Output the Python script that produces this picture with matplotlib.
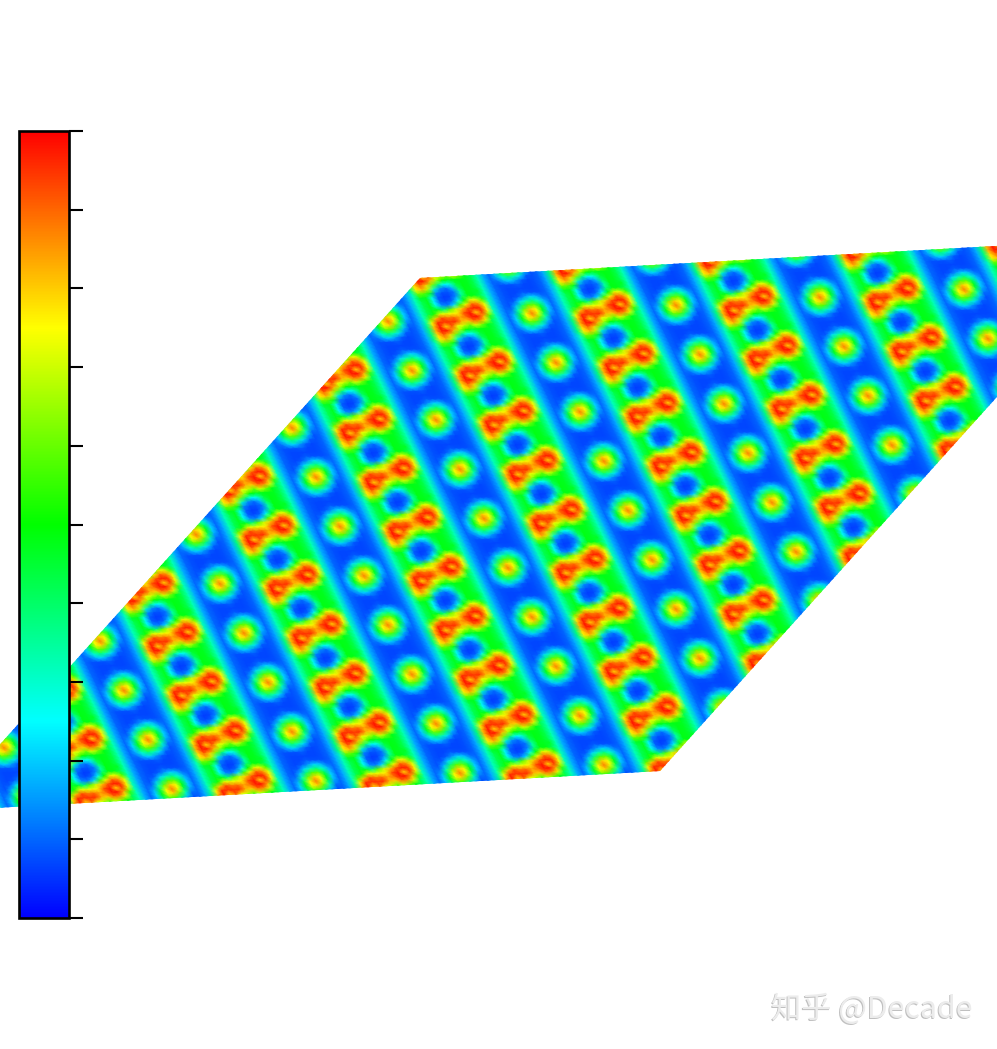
from matplotlib import pyplot as plt
from matplotlib.colors import LinearSegmentedColormap
from matplotlib.patches import Polygon
import numpy as np

# one repeat of the map in percent of the colour scale
# rows go along the slanted lattice direction, columns along the near-flat one
unit_cell = [
    [ 7,  7,  7,  8, 10, 17, 32, 60, 58, 47, 13,  8,  8, 11, 33, 48, 47, 46, 32, 17, 10,  8,  7,  7],
    [ 9,  8,  8,  8, 10, 17, 32, 46, 47, 28,  9,  6,  7, 14, 38, 48, 48, 42, 32, 17, 10,  8,  7,  7],
    [15, 21, 18, 11, 10, 17, 32, 42, 47, 24,  9,  7, 10, 26, 50, 72, 72, 56, 32, 17, 10,  8,  7,  9],
    [32, 38, 30, 17, 10, 17, 32, 42, 47, 28, 14, 12, 22, 56, 74, 90, 86, 72, 32, 17, 10,  8,  9, 21],
    [58, 60, 42, 20, 10, 17, 32, 42, 47, 47, 38, 58, 70, 80, 92, 98, 95, 76, 32, 17, 10,  8, 18, 38],
    [80, 74, 48, 21, 10, 17, 32, 42, 52, 72, 72, 74, 77, 92, 98, 78, 95, 72, 32, 17, 10, 11, 32, 60],
    [88, 74, 42, 17, 10, 17, 32, 58, 80, 93, 88, 90, 84, 89, 98, 98, 83, 56, 32, 17, 10, 17, 42, 74],
    [80, 60, 32, 11, 10, 17, 34, 74, 96, 95, 95, 95, 82, 80, 89, 86, 72, 42, 32, 17, 10, 21, 48, 74],
    [58, 38, 18,  8, 10, 17, 38, 81, 98, 78, 92, 74, 70, 60, 72, 62, 48, 42, 32, 17, 10, 20, 42, 60],
    [32, 21,  9,  8, 10, 17, 38, 83, 98, 97, 82, 66, 50, 46, 48, 48, 47, 42, 32, 17, 10, 17, 30, 38],
    [15,  9,  7,  8, 10, 17, 38, 78, 90, 80, 62, 38, 25, 30, 44, 48, 47, 42, 32, 17, 10, 11, 18, 21],
    [ 9,  7,  7,  8, 10, 17, 38, 76, 82, 68, 30, 14, 10, 18, 40, 48, 47, 42, 32, 17, 10,  8,  8,  8],
]
scale_colors = ["#0000ff", "#00ffff", "#00ff00", "#ffff00", "#ff0000"]
scale_ticks = [0, 10, 20, 30, 40, 50, 60, 70, 80, 90, 100]
watermark = "知乎 @Decade"

W, H = 997, 1049
# lattice vectors and origin of the map in image pixels
a1 = np.array([144.0, -8.0])
a2 = np.array([24.0, 49.3])
origin = np.array([652.0, 408.0])
corner = np.array([420.0, 278.0])


def main():
    fig = plt.figure(figsize=(W / 100, H / 100), dpi=100)
    ax = fig.add_axes([0, 0, 1, 1])
    ax.set_xlim(0, W)
    ax.set_ylim(H, 0)
    ax.axis("off")

    cmap = LinearSegmentedColormap.from_list("rainbow5", scale_colors, N=512)

    # repeat the cell over the lattice
    cell = np.array(unit_cell, dtype=float)
    rows, cols = cell.shape
    n1, n2 = 14, 18
    z = np.tile(cell, (n2, n1))
    z = np.vstack([z, z[:1]])
    z = np.hstack([z, z[:, :1]])
    u = -8.5 + np.arange(z.shape[1]) / cols
    v = -6.5 + np.arange(z.shape[0]) / rows
    uu, vv = np.meshgrid(u, v)
    x = origin[0] + uu * a1[0] + vv * a2[0]
    y = origin[1] + uu * a1[1] + vv * a2[1]
    mesh = ax.pcolormesh(x, y, z, cmap=cmap, vmin=0, vmax=100, shading="gouraud")

    # the supercell outline clips the map
    top = 5 * a1
    side = 10 * a2 - 5 * a1
    clip = Polygon([corner, corner + top, corner + top + side, corner + side],
                   closed=True, transform=ax.transData, facecolor="none", edgecolor="none")
    ax.add_patch(clip)
    mesh.set_clip_path(clip)

    # colour bar
    cax = fig.add_axes([19 / W, (H - 918) / H, 50 / W, 787 / H])
    cbar = fig.colorbar(mesh, cax=cax, ticks=scale_ticks)
    cbar.ax.set_yticklabels([])
    cbar.ax.tick_params(length=10, width=1.5, color="black")
    cbar.outline.set_linewidth(1.9)
    cbar.outline.set_edgecolor("black")

    # embossed watermark
    font = ["Noto Sans CJK SC", "DejaVu Sans"]
    ax.text(770, 1019, watermark, family=font, fontsize=21.8, color="#c0c0c0", va="baseline")
    ax.text(771, 1018, watermark, family=font, fontsize=21.8, color="#ececec", va="baseline")

    fig.savefig("out.png", dpi=100)


if __name__ == '__main__':
    main()
